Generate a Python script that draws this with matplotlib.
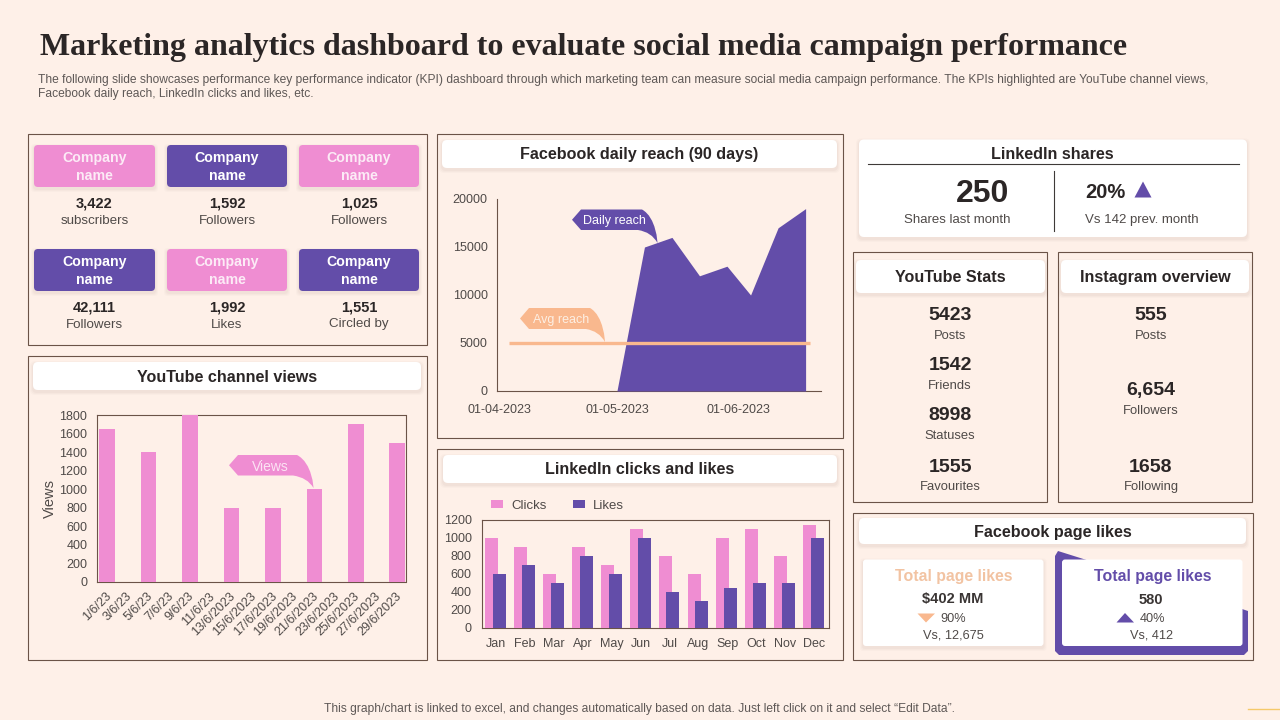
import pandas as pd
import matplotlib
matplotlib.use("Agg")
import matplotlib.pyplot as plt
from matplotlib.patches import FancyBboxPatch, PathPatch, Polygon, Rectangle
from matplotlib.path import Path
from matplotlib.transforms import ScaledTranslation

# colours
bg_color = "#FEF0E8"
edge_color = "#6B5347"
pink = "#EF8DD2"
purple = "#634DA9"
peach = "#F9B88E"
dark = "#2B2626"
gray = "#4F4A48"

# company tiles
company_values = ["3,422", "1,592", "1,025", "42,111", "1,992", "1,551"]
company_labels = ["subscribers", "Followers", "Followers", "Followers", "Likes", "Circled by"]
company_colors = [pink, purple, pink, purple, pink, purple]

# youtube channel views
view_days = [1, 5, 9, 13, 17, 21, 25, 29]
view_values = [1650, 1400, 1800, 800, 800, 1000, 1700, 1500]
view_tick_days = list(range(1, 30, 2))
view_tick_labels = ["1/6/23", "3/6/23", "5/6/23", "7/6/23", "9/6/23", "11/6/23", "13/6/2023", "15/6/2023",
                    "17/6/2023", "19/6/2023", "21/6/2023", "23/6/2023", "25/6/2023", "27/6/2023", "29/6/2023"]

# facebook daily reach
reach_dates = pd.to_datetime(["2023-04-01", "2023-05-01", "2023-05-08", "2023-05-15", "2023-05-22",
                              "2023-05-29", "2023-06-04", "2023-06-11", "2023-06-18"])
reach_values = [0, 0, 15000, 16000, 12000, 13000, 10000, 17000, 19000]
avg_reach = [5000, 5000]
avg_dates = pd.to_datetime(["2023-04-03 12:00", "2023-06-19 00:00"])
reach_ticks = pd.to_datetime(["2023-04-01", "2023-05-01", "2023-06-01"])
reach_tick_labels = ["01-04-2023", "01-05-2023", "01-06-2023"]

# linkedin clicks and likes
months = ["Jan", "Feb", "Mar", "Apr", "May", "Jun", "Jul", "Aug", "Sep", "Oct", "Nov", "Dec"]
clicks = [1000, 900, 600, 900, 700, 1100, 800, 600, 1000, 1100, 800, 1150]
likes = [600, 700, 500, 800, 600, 1000, 400, 300, 450, 500, 500, 1000]

# side stats
youtube_stats = [("5423", "Posts"), ("1542", "Friends"), ("8998", "Statuses"), ("1555", "Favourites")]
instagram_stats = [("555", "Posts"), ("6,654", "Followers"), ("1658", "Following")]

W, H = 1280, 720
plt.rcParams["font.family"] = ["Liberation Sans", "DejaVu Sans"]

fig = plt.figure(figsize=(W / 100, H / 100), dpi=100, facecolor=bg_color)

# whole-slide axes in pixel coordinates, one below the charts and one above
back = fig.add_axes([0, 0, 1, 1], zorder=0)
front = fig.add_axes([0, 0, 1, 1], zorder=5)
for a in (back, front):
    a.set_xlim(0, W)
    a.set_ylim(H, 0)
    a.axis("off")
    a.patch.set_alpha(0)


def panel(x0, y0, x1, y1):
    back.add_patch(Rectangle((x0 - 0.5, y0 - 0.7), x1 - x0, y1 - y0, fc="none", ec=edge_color, lw=0.8))


def rounded(ax, x0, y0, x1, y1, color, r=5, shadow=True):
    if shadow:
        for grow, alpha in [(3, 0.02), (2, 0.025), (1, 0.03)]:
            ax.add_patch(FancyBboxPatch((x0 - grow + r, y0 + 2 - grow + r), x1 - x0 + 2 * grow - 2 * r,
                                        y1 - y0 + 2 * grow - 2 * r, boxstyle=f"round,pad={r},rounding_size={r}",
                                        fc="#5A3A2A", ec="none", alpha=alpha))
    ax.add_patch(FancyBboxPatch((x0 + r, y0 + r), x1 - x0 - 2 * r, y1 - y0 - 2 * r,
                                boxstyle=f"round,pad={r},rounding_size={r}", fc=color, ec="none"))


def label(x, y, s, size=10, bold=False, color=gray, ha="center", ax=None):
    (ax or back).text(x, y, s, fontsize=size, fontweight="bold" if bold else "normal",
                      color=color, ha=ha, va="center_baseline")


def heading(x0, y0, x1, y1, s):
    rounded(back, x0, y0, x1, y1, "white")
    label((x0 + x1) / 2, (y0 + y1) / 2 - 0.5, s, size=11.6, bold=True, color=dark)


def callout(tip, top, right, tail, low, color, s, text_x, text_color="white", size=9):
    # flag shape with a curved tail pointing down at the mark
    verts = [(tip, (top + low) / 2), (tip + 9, top), (right, top),
             (tail[0] - 1, top + 8), (tail[0], tail[1]), (tail[0], tail[1]),
             (tail[0] - 6, low + 2), (right - 4, low), (tip + 9, low), (tip, (top + low) / 2)]
    codes = [Path.MOVETO, Path.LINETO, Path.LINETO, Path.CURVE4, Path.CURVE4, Path.CURVE4,
             Path.CURVE3, Path.CURVE3, Path.LINETO, Path.CLOSEPOLY]
    front.add_patch(PathPatch(Path(verts, codes), fc=color, ec="none"))
    label(text_x, (top + low) / 2, s, size=size, color=text_color, ax=front)


def chart_axes(x0, y0, x1, y1):
    ax = fig.add_axes([x0 / W, 1 - y1 / H, (x1 - x0) / W, (y1 - y0) / H], zorder=2)
    ax.patch.set_alpha(0)
    ax.tick_params(length=0, labelsize=9, labelcolor=gray)
    for sp in ax.spines.values():
        sp.set_color(edge_color)
        sp.set_linewidth(0.8)
        sp.set_zorder(1)
    return ax


# title block
back.text(40, 47, "Marketing analytics dashboard to evaluate social media campaign performance",
          family=["Liberation Serif"], fontsize=23.08, fontweight="bold", color=dark, ha="left", va="center")
back.text(38, 79.5, "The following slide showcases performance key performance indicator (KPI) dashboard through which "
          "marketing team can measure social media campaign performance. The KPIs highlighted are YouTube channel views,",
          fontsize=8.65, color="#5E5856", ha="left", va="center")
back.text(38, 93.5, "Facebook daily reach, LinkedIn clicks and likes, etc.",
          fontsize=8.65, color="#5E5856", ha="left", va="center")
back.text(640, 709, "This graph/chart is linked to excel, and changes automatically based on data. "
          "Just left click on it and select \u201cEdit Data\u201d.", fontsize=8.63, color="#5E5856", ha="center", va="center")
back.plot([1248, 1280], [709, 709], color="#F5C96A", lw=1)

# panels
panel(28, 134.5, 427, 345.5)
panel(28, 356.5, 427, 660.5)
panel(437.5, 134.5, 843.5, 438.5)
panel(437.5, 449.5, 843.5, 660.5)
panel(853.5, 252.5, 1047.5, 502.5)
panel(1058.5, 252.5, 1252.5, 502.5)
panel(853.5, 513.5, 1253, 660.5)

# company tiles
tile_x = [(34, 155), (167, 287), (299, 419)]
tile_y = [(145, 187), (249, 291)]
for i, (val, lab, col) in enumerate(zip(company_values, company_labels, company_colors)):
    x0, x1 = tile_x[i % 3]
    y0, y1 = tile_y[i // 3]
    rounded(back, x0, y0, x1, y1, col, r=4)
    cx = (x0 + x1) / 2
    label(cx, y0 + 11.5, "Company", size=10.2, bold=True, color="#FCEBF6" if col == pink else "white")
    label(cx, y0 + 29.5, "name", size=10.2, bold=True, color="#FCEBF6" if col == pink else "white")
    label(cx, y1 + 15.5, val, size=10.5, bold=True, color=dark)
    label(cx, y1 + 32, lab, size=9.6)

# headings
heading(33, 362, 421, 390, "YouTube channel views")
heading(442, 140, 837, 168, "Facebook daily reach (90 days)")
heading(443, 455, 837, 483, "LinkedIn clicks and likes")
heading(856, 260, 1045, 293, "YouTube Stats")
heading(1061, 260, 1249, 293, "Instagram overview")
heading(859, 518, 1246, 544, "Facebook page likes")

# youtube channel views
ax = chart_axes(97, 415, 405.5, 582)
ax.bar(view_days, view_values, width=1.5, color=pink, zorder=2)
ax.set_xlim(0.03, 29.8)
ax.set_ylim(0, 1800)
ax.set_yticks(range(0, 1801, 200))
ax.set_xticks(view_tick_days)
ax.set_xticklabels(view_tick_labels, rotation=45, ha="right", rotation_mode="anchor", fontsize=9)
ax.set_ylabel("Views", fontsize=10.5, color=gray, labelpad=2)
ax.tick_params(axis="y", pad=7)
ax.tick_params(axis="x", pad=6)
shift = ScaledTranslation(-2 / 100, 0, fig.dpi_scale_trans)
for t in ax.get_xticklabels():
    t.set_transform(t.get_transform() + shift)

# facebook daily reach
ax = chart_axes(496.5, 199, 821, 391)
ax.fill_between(reach_dates, reach_values, 0, color=purple, lw=0, zorder=2)
ax.plot(avg_dates, avg_reach, color=peach, lw=2.4, zorder=3, solid_capstyle="butt")
ax.set_xlim(pd.Timestamp("2023-03-31 08:40"), pd.Timestamp("2023-06-21 22:00"))
ax.set_ylim(0, 20000)
ax.set_yticks(range(0, 20001, 5000))
ax.set_xticks(reach_ticks)
ax.set_xticklabels(reach_tick_labels)
ax.spines[["top", "right"]].set_visible(False)
ax.tick_params(axis="y", pad=6.4)
ax.tick_params(axis="x", pad=9.5)

# linkedin clicks and likes
ax = chart_axes(481.5, 520, 828.5, 628)
pos = list(range(len(months)))
ax.bar([p - 0.15 for p in pos], clicks, width=0.45, color=pink, label="Clicks", zorder=2)
ax.bar([p + 0.12 for p in pos], likes, width=0.45, color=purple, label="Likes", zorder=3)
ax.set_xlim(-0.5, 11.5)
ax.set_ylim(0, 1200)
ax.set_yticks(range(0, 1201, 200))
ax.set_xticks(pos)
ax.set_xticklabels(months)
ax.tick_params(axis="y", pad=7)
ax.tick_params(axis="x", pad=7)
ax.legend(loc="lower left", bbox_to_anchor=(0.006, 1.0), ncol=2, frameon=False, fontsize=9.5, labelcolor=gray,
          handlelength=0.9, handleheight=0.55, columnspacing=2.0, handletextpad=0.6, borderaxespad=0.2)

# callouts
callout(229, 455, 297, (313.5, 488), 475.5, pink, "Views", 270, text_color="#FCE3F4", size=10)
callout(572, 209.5, 642, (657.5, 243), 230, purple, "Daily reach", 614.5)
callout(520, 308, 590, (605, 342), 329, peach, "Avg reach", 561, text_color="#FDEFE3")

# linkedin shares card
rounded(back, 859, 139.5, 1247, 237, "white")
label(1052, 153, "LinkedIn shares", size=11.6, bold=True, color=dark)
back.plot([868, 1239], [163.5, 163.5], color="#3F3A38", lw=0.8)
back.plot([1053.5, 1053.5], [171, 230.5], color="#3F3A38", lw=0.8)
label(982.5, 190, "250", size=23, bold=True, color=dark)
label(957, 218.5, "Shares last month", size=9.5)
label(1085, 190, "20%", size=14.5, bold=True, color=dark, ha="left")
label(1085, 218.5, "Vs 142 prev. month", size=9.5, ha="left")
back.add_patch(Polygon([(1134.5, 197.5), (1151.5, 197.5), (1143, 181.5)], fc=purple, ec="none"))

# side stats
for (val, lab), y in zip(youtube_stats, [314, 364, 414, 465]):
    label(950, y, val, size=14, bold=True, color=dark)
    label(950, y + 20.5, lab, size=9.4)
for (val, lab), y in zip(instagram_stats, [314, 389, 465]):
    label(1151, y, val, size=14, bold=True, color=dark)
    label(1151, y + 20.5, lab, size=9.4)

# facebook page likes cards
back.add_patch(Polygon([(1055, 556), (1058, 551), (1085, 559.5), (1242, 609), (1248, 611), (1248, 651),
                        (1244, 655), (1059, 655), (1055, 651)], fc=purple, ec="none"))
rounded(back, 863, 559.5, 1043.5, 646, "white", r=3)
rounded(back, 1062, 559.5, 1242.5, 646, "white", r=3, shadow=False)
label(953.5, 575, "Total page likes", size=11.4, bold=True, color="#F2C3A2")
label(953, 598, "$402 MM", size=10.5, bold=True, color="#3A3534")
label(953, 618, "90%", size=9.2)
label(953.5, 634, "Vs, 12,675", size=9.2)
back.add_patch(Polygon([(917.5, 613.5), (935, 613.5), (926, 622.5)], fc=peach, ec="none"))
label(1152.5, 575, "Total page likes", size=11.4, bold=True, color=purple)
label(1151, 598, "580", size=10.5, bold=True, color="#3A3534")
label(1140, 618, "40%", size=9.2, ha="left")
label(1152, 634, "Vs, 412", size=9.2)
back.add_patch(Polygon([(1116.5, 622.5), (1134, 622.5), (1125, 613)], fc=purple, ec="none"))

fig.savefig("out.png", dpi=100, facecolor=bg_color)
plt.close(fig)
